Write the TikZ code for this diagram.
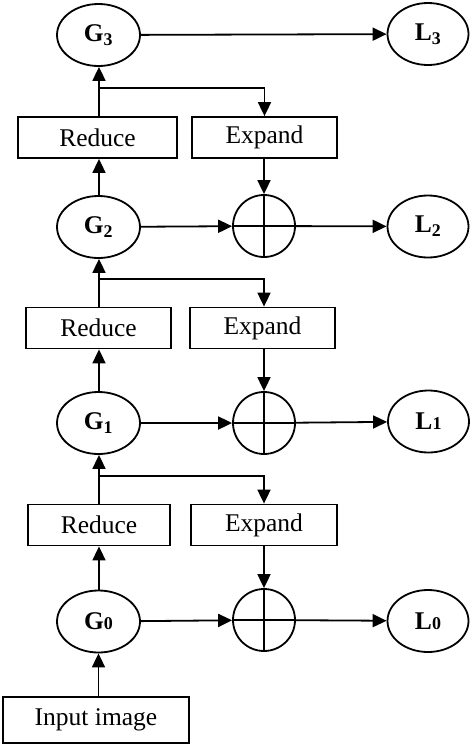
\documentclass[tikz,border=0pt]{standalone}
\usepackage{fontspec}
\setmainfont{Liberation Serif}
\usetikzlibrary{shapes.geometric,arrows.meta,calc}
\newcommand{\lowsub}[1]{\textsubscript{#1}}
\newcommand{\smalldig}[1]{{\fontsize{18}{20}\selectfont #1}}
\begin{document}
\begin{tikzpicture}[x=1pt,y=-1pt,
  font=\fontsize{25.5}{30}\selectfont,
  line width=1.8pt,
  arr/.style={-{Triangle[length=14pt,width=13pt]}},
  gnode/.style={draw,ellipse,minimum width=83pt,minimum height=62pt,inner sep=0pt,font=\fontsize{25.5}{30}\selectfont\bfseries},
  lnode/.style={draw,ellipse,minimum width=81pt,minimum height=62pt,inner sep=0pt,font=\fontsize{25.5}{30}\selectfont\bfseries},
  boxnode/.style={draw,rectangle,minimum height=41pt,inner sep=0pt},
  sumnode/.style={draw,circle,minimum size=62pt,inner sep=0pt}
]
\useasboundingbox (0,0) rectangle (474,745);
% row nodes
\node[gnode] (G3) at (98.5,35) {G\lowsub{3}};
\node[lnode] (L3) at (428,34) {L\lowsub{3}};
\node[boxnode,minimum width=159pt] (R3) at (97.5,137.5) {Reduce};
\node[boxnode,minimum width=145pt] (E3) at (264.5,137.5) {Expand};

\node[gnode] (G2) at (98.5,227) {G\lowsub{2}};
\node[sumnode] (S2) at (264,226) {};
\node[lnode] (L2) at (428,226.5) {L\lowsub{2}};
\node[boxnode,minimum width=145pt] (R2) at (98.5,328) {Reduce};
\node[boxnode,minimum width=145pt] (E2) at (262.5,328) {Expand};

\node[gnode] (G1) at (98.5,423) {G\lowsub{1}};
\node[sumnode] (S1) at (264,423) {};
\node[lnode] (L1) at (428.5,421.5) {L\smalldig{1}};
\node[boxnode,minimum width=142pt] (R1) at (99,525) {Reduce};
\node[boxnode,minimum width=146pt] (E1) at (264,525) {Expand};

\node[gnode] (G0) at (98.5,621.5) {G\smalldig{0}};
\node[sumnode] (S0) at (264,620) {};
\node[lnode] (L0) at (428,621) {L\smalldig{0}};
\node[boxnode,minimum width=186pt,minimum height=46pt] (IN) at (96,720) {Input image};

% plus signs
\foreach \s in {S2,S1,S0}{
  \draw (\s.north) -- (\s.south);
  \draw (\s.west) -- (\s.east);
}
% branch coordinates
\coordinate (B3) at (99,88);
\coordinate (B2) at (99,279);
\coordinate (B1) at (99,476);

% top level
\draw[arr] (G3) -- (L3);
\draw[arr] (R3.north -| B3) -- (G3.south -| B3);
\draw[arr] (B3) -| (E3.north);
\draw[arr] (G2.north -| B3) -- (R3.south -| B3);
\draw[arr] (E3.south -| S2) -- (S2.north);
\draw[arr] (G2) -- (S2);
\draw[arr] (S2) -- (L2);

% level 1
\draw[arr] (R2.north -| B2) -- (G2.south -| B2);
\draw[arr] (B2) -| (E2.north -| S1);
\draw[arr] (G1.north -| B2) -- (R2.south -| B2);
\draw[arr] (E2.south -| S1) -- (S1.north);
\draw[arr] (G1) -- (S1);
\draw[arr] (S1) -- (L1);

% level 0
\draw[arr] (R1.north -| B1) -- (G1.south -| B1);
\draw[arr] (B1) -| (E1.north -| S0);
\draw[arr] (G0.north -| B1) -- (R1.south -| B1);
\draw[arr] (E1.south -| S0) -- (S0.north);
\draw[arr] (G0) -- (S0);
\draw[arr] (S0) -- (L0);

\draw[arr] (IN.north -| G0) -- (G0.south);
\end{tikzpicture}
\end{document}
